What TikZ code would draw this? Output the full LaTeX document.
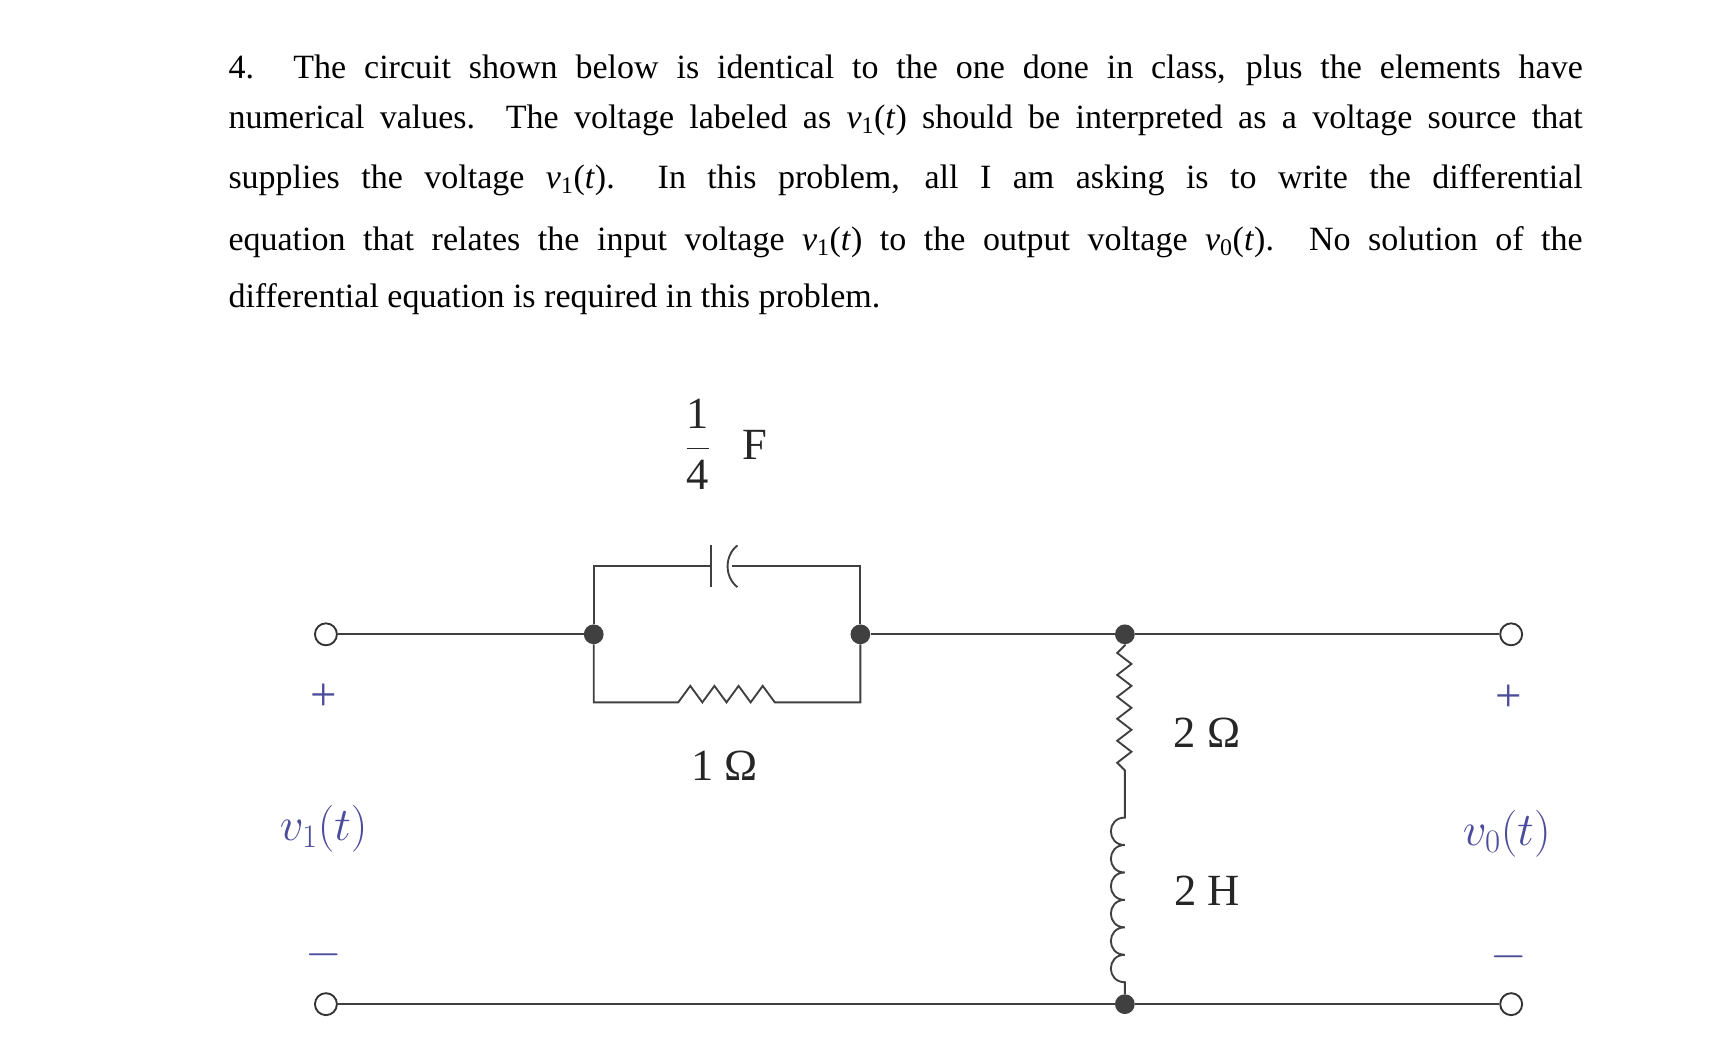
\RequirePackage{fix-cm}
\documentclass[tikz,border=0pt]{standalone}
\usepackage{fontspec}
\setmainfont{Liberation Serif}
\begin{document}
\begin{tikzpicture}[x=0.0329cm,y=-0.0329cm,
  wire/.style={line width=1.6pt,draw=black!75},
  lab/.style={font=\fontsize{38}{42}\selectfont,text=black!85},
  blab/.style={font=\fontsize{40}{44}\selectfont,text=blue!45!black!70!white},
  term/.style={circle,draw=black!80,line width=1.6pt,fill=white,inner sep=0pt,minimum size=20*0.0329cm},
  dot/.style={circle,fill=black!75,inner sep=0pt,minimum size=18*0.0329cm},
  txt/.style={anchor=base west,inner sep=0pt,font=\fontsize{29}{32}\selectfont}]
\useasboundingbox (0,0) rectangle (1560,951);
\fill[white] (0,0) rectangle (1560,951);
\newcommand\jline[1]{\parbox{1234\dimexpr0.0329cm\relax}{\parfillskip=0pt #1\par}}
\newcommand\vv[1]{\textit{v}\textsubscript{#1}(\textit{t})}
\node[txt] (t1) at (208,72) {\jline{4. The circuit shown below is identical to the one done in class, plus the elements have}};
\node[txt] (t2) at (208,117) {\jline{numerical values.\ \ The voltage labeled as \vv{1} should be interpreted as a voltage source that}};
\node[txt] (t3) at (208,172) {\jline{supplies the voltage \vv{1}.\ \ In this problem, all I am asking is to write the differential}};
\node[txt] (t4) at (208,228) {\jline{equation that relates the input voltage \vv{1} to the output voltage \vv{0}.\ \ No solution of the}};
\node[txt] (t5) at (208,280) {differential equation is required in this problem.};
% nodes
\node[term] (a) at (297,578) {};
\node[term] (b) at (297,915) {};
\node[dot] (n1) at (541,578) {};
\node[dot] (n2) at (784,578) {};
\node[dot] (n3) at (1025,578) {};
\node[dot] (n4) at (1025,915) {};
\node[term] (c) at (1377,578) {};
\node[term] (d) at (1377,915) {};
\draw[wire] (a) -- (n1) (n2) -- (n3) -- (c) (b) -- (n4) -- (d);
% parallel block
\coordinate (c1) at (648,516); \coordinate (c2) at (667,516);
\draw[wire] (n1) -- (541,516) -- (c1);
\draw[wire] (648,497) -- (648,535);
\draw[wire] (672,497) .. controls (660,506) and (660,526) .. (672,535);
\draw[wire] (c2) -- (784,516) -- (n2);
\draw[wire] (n1) -- (541,640) -- (618,640) -- (629,625) -- (640,640) -- (651,625) -- (662,640) -- (673,625) -- (684,640) -- (695,625) -- (706,640) -- (784,640) -- (n2);
% vertical branch
\draw[wire] (n3) -- (1025,588) -- (1018,595) -- (1031,605) -- (1018,615) -- (1031,625) -- (1018,635) -- (1031,645) -- (1018,655) -- (1031,665) -- (1018,675) -- (1031,685) -- (1018,695) -- (1025,702) -- (1025,745)
  \foreach \y in {745,770,795,820,845,870} { .. controls (1008,\y) and (1008,\y+25) .. (1025,\y+25)} -- (n4);
% labels
\node[lab] (f) at (636,405) {$\displaystyle\frac{\mbox{1}}{\mbox{4}}$};
\node[lab] (F) at (688,405) {F};
\node[lab] (r1) at (660,698) {1 Ω};
\node[lab] (r2) at (1100,668) {2 Ω};
\node[lab] (l1) at (1100,812) {2 H};
\node[blab] (p1) at (295,635) {+};
\node[blab] (m1) at (295,870) {$-$};
\node[blab] (v1) at (295,755) {$v_1(t)$};
\node[blab] (p2) at (1375,636) {+};
\node[blab] (m2) at (1375,872) {$-$};
\node[blab] (v0) at (1373,760) {$v_0(t)$};
\end{tikzpicture}
\end{document}
